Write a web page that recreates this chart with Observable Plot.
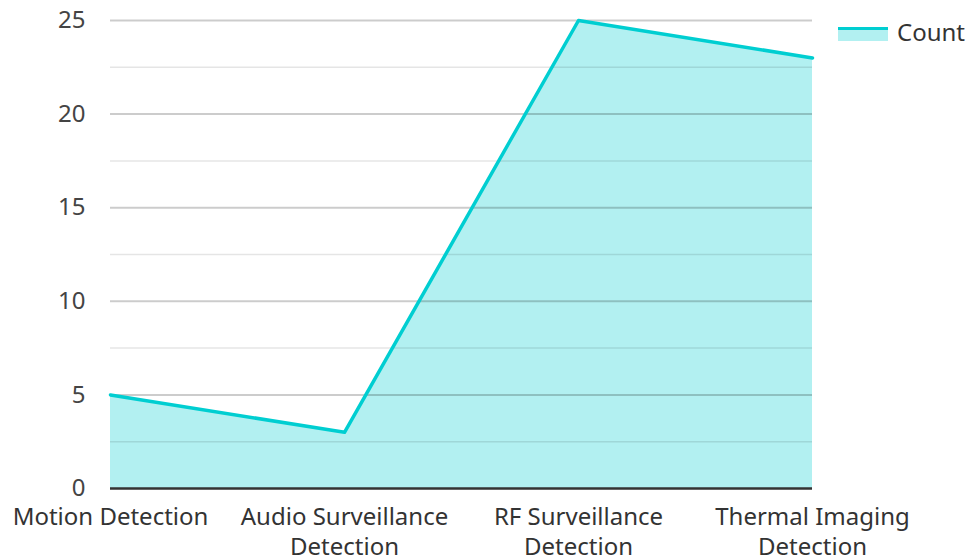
<!DOCTYPE html>
<html>
<head>
<meta charset="utf-8">
<script src="https://cdn.jsdelivr.net/npm/d3@7"></script>
<script src="https://cdn.jsdelivr.net/npm/@observablehq/plot@0.6"></script>
<style>
  html, body { margin: 0; padding: 0; background: #fff; }
  #wrap { position: relative; width: 970px; height: 560px; font-family: "Noto Sans", sans-serif; }
  #legend { position: absolute; left: 838px; top: 15px; display: flex; align-items: center; font-size: 24px; color: #333; }
  #legend .sw { width: 50px; height: 14px; background: rgba(0,206,209,0.3); border-top: 3px solid #00CED1; box-sizing: border-box; margin-right: 9px; margin-top: 4px; }
</style>
</head>
<body>
<div id="wrap"><div id="legend"><div class="sw"></div><span>Count</span></div></div>
<script>
const categories = ["Motion Detection", "Audio Surveillance Detection", "RF Surveillance Detection", "Thermal Imaging Detection"];
const counts = [5, 3, 25, 23];
const tickLabels = ["Motion Detection", "Audio Surveillance\nDetection", "RF Surveillance\nDetection", "Thermal Imaging\nDetection"];
const majorTicks = [0, 5, 10, 15, 20, 25];
const minorTicks = [2.5, 7.5, 12.5, 17.5, 22.5];

const data = categories.map((c, i) => ({category: c, count: counts[i]}));
const labelMap = new Map(categories.map((c, i) => [c, tickLabels[i]]));

const chart = Plot.plot({
  width: 970,
  height: 560,
  marginLeft: 110,
  marginRight: 158,
  marginTop: 20,
  marginBottom: 72,
  style: {fontFamily: "Noto Sans, sans-serif", fontSize: "24px", color: "#444", background: "transparent"},
  x: {type: "point", domain: categories, padding: 0, label: null},
  y: {domain: [0, 25], label: null},
  marks: [
    Plot.areaY(data, {x: "category", y: "count", fill: "#00CED1", fillOpacity: 0.3, curve: "linear"}),
    Plot.ruleY(minorTicks, {stroke: "#000", strokeOpacity: 0.1, strokeWidth: 1.5}),
    Plot.ruleY(majorTicks.filter(d => d > 0), {stroke: "#000", strokeOpacity: 0.2, strokeWidth: 2}),
    Plot.lineY(data, {x: "category", y: "count", stroke: "#00CED1", strokeWidth: 3.5, curve: "linear"}),
    Plot.ruleY([0], {stroke: "#333", strokeWidth: 2.5}),
    Plot.axisY({ticks: majorTicks, tickSize: 0, tickPadding: 25, fontSize: 24, fill: "#444"}),
    Plot.axisX({tickSize: 0, tickPadding: 15, fontSize: 24, fill: "#333", lineHeight: 1.25, tickFormat: d => labelMap.get(d)})
  ]
});
document.getElementById("wrap").prepend(chart);
chart.style.position = "absolute";
chart.style.left = "0";
chart.style.top = "0";
</script>
</body>
</html>
